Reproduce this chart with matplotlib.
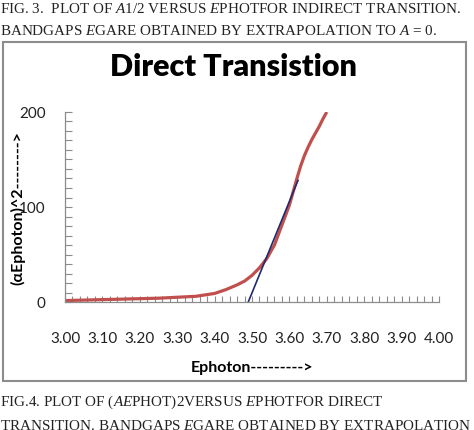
import numpy as np
import matplotlib
matplotlib.use("Agg")
import matplotlib.pyplot as plt
from matplotlib.patches import Rectangle
from matplotlib.ticker import MultipleLocator

# data
ephoton = [3.00, 3.05, 3.10, 3.15, 3.20, 3.25, 3.30, 3.35, 3.40, 3.43, 3.46,
           3.48, 3.50, 3.52, 3.54, 3.56, 3.58, 3.60, 3.61, 3.62, 3.63, 3.64,
           3.65, 3.66, 3.67, 3.68, 3.69, 3.70]
alpha_e2 = [1.5, 2, 2.5, 3, 3.5, 4, 5, 6, 9, 13, 18,
            22, 28, 36, 46, 60, 81, 102, 116, 130, 143, 154,
            163, 171, 178, 185, 193, 200]
fit_x = [3.49, 3.623]
fit_y = [0, 128]

xticks = [3.00, 3.10, 3.20, 3.30, 3.40, 3.50, 3.60, 3.70, 3.80, 3.90, 4.00]
yticks = [0, 100, 200]

W, H = 474, 431
plt.rcParams['mathtext.fontset'] = 'custom'
plt.rcParams['mathtext.rm'] = 'Liberation Serif'
plt.rcParams['mathtext.it'] = 'Liberation Serif:italic'

fig = plt.figure(figsize=(W / 100, H / 100), dpi=100)

def px(x, y):
    return x / W, 1 - y / H

# chart frame
fig.patches.append(Rectangle(px(3, 382), 463 / W, 339 / H, transform=fig.transFigure,
                             fill=False, edgecolor='#8c8c8c', linewidth=1.5))

ax = fig.add_axes([65 / W, 1 - 303 / H, (439 - 65) / W, (303 - 113) / H])
ax.plot(ephoton, alpha_e2, color='#c0504d', linewidth=2.3, solid_capstyle='butt')
ax.plot(fit_x, fit_y, color='#1f2a6e', linewidth=1.2)
ax.set_xlim(3.0, 4.0)
ax.set_ylim(0, 200)
ax.set_xticks(xticks)
ax.set_xticklabels(['%.2f' % v for v in xticks])
ax.set_yticks(yticks)
ax.xaxis.set_minor_locator(MultipleLocator(0.02))
ax.yaxis.set_minor_locator(MultipleLocator(10))
for s in ['top', 'right']:
    ax.spines[s].set_visible(False)
for s in ['left', 'bottom']:
    ax.spines[s].set_color('#8c8c8c')
    ax.spines[s].set_linewidth(0.9)
ax.tick_params(axis='x', which='both', direction='in', length=4, color='#8c8c8c', width=0.8)
ax.tick_params(axis='x', which='major', pad=21)
ax.tick_params(axis='y', which='both', direction='in', length=5, color='#8c8c8c', width=0.8)
ax.tick_params(axis='y', which='major', pad=14)
ax.tick_params(labelsize=11, labelcolor='#222222')
for lab in ax.get_xticklabels() + ax.get_yticklabels():
    lab.set_family('Lato')

fig.text(*px(234, 67), 'Direct Transistion', family='Lato', weight='heavy', fontsize=22,
         ha='center', va='center')
fig.text(*px(252, 368), 'Ephoton--------->', family='Lato', weight='bold', fontsize=11.5,
         ha='center', va='center')
fig.text(*px(18, 208), '(\u03b1Ephoton)^2-------->', family='Lato', weight='bold', fontsize=11.5,
         ha='center', va='center', rotation=90)

cap = dict(family='Liberation Serif', fontsize=10.9, ha='left', va='center', color='#222222')
fig.text(*px(0, 9), r'FIG. 3.  PLOT OF $\mathit{A}$1/2 VERSUS $\mathit{E}$PHOTFOR INDIRECT TRANSITION.', **cap)
fig.text(*px(0, 31), r'BANDGAPS $\mathit{E}$GARE OBTAINED BY EXTRAPOLATION TO $\mathit{A}$ = 0.', **cap)
fig.text(*px(0, 402), r'FIG.4. PLOT OF ($\mathit{AE}$PHOT)2VERSUS $\mathit{E}$PHOTFOR DIRECT', **cap)
fig.text(*px(0, 426), r'TRANSITION. BANDGAPS $\mathit{E}$GARE OBTAINED BY EXTRAPOLATION', **cap)

fig.savefig('out.png', dpi=100)
